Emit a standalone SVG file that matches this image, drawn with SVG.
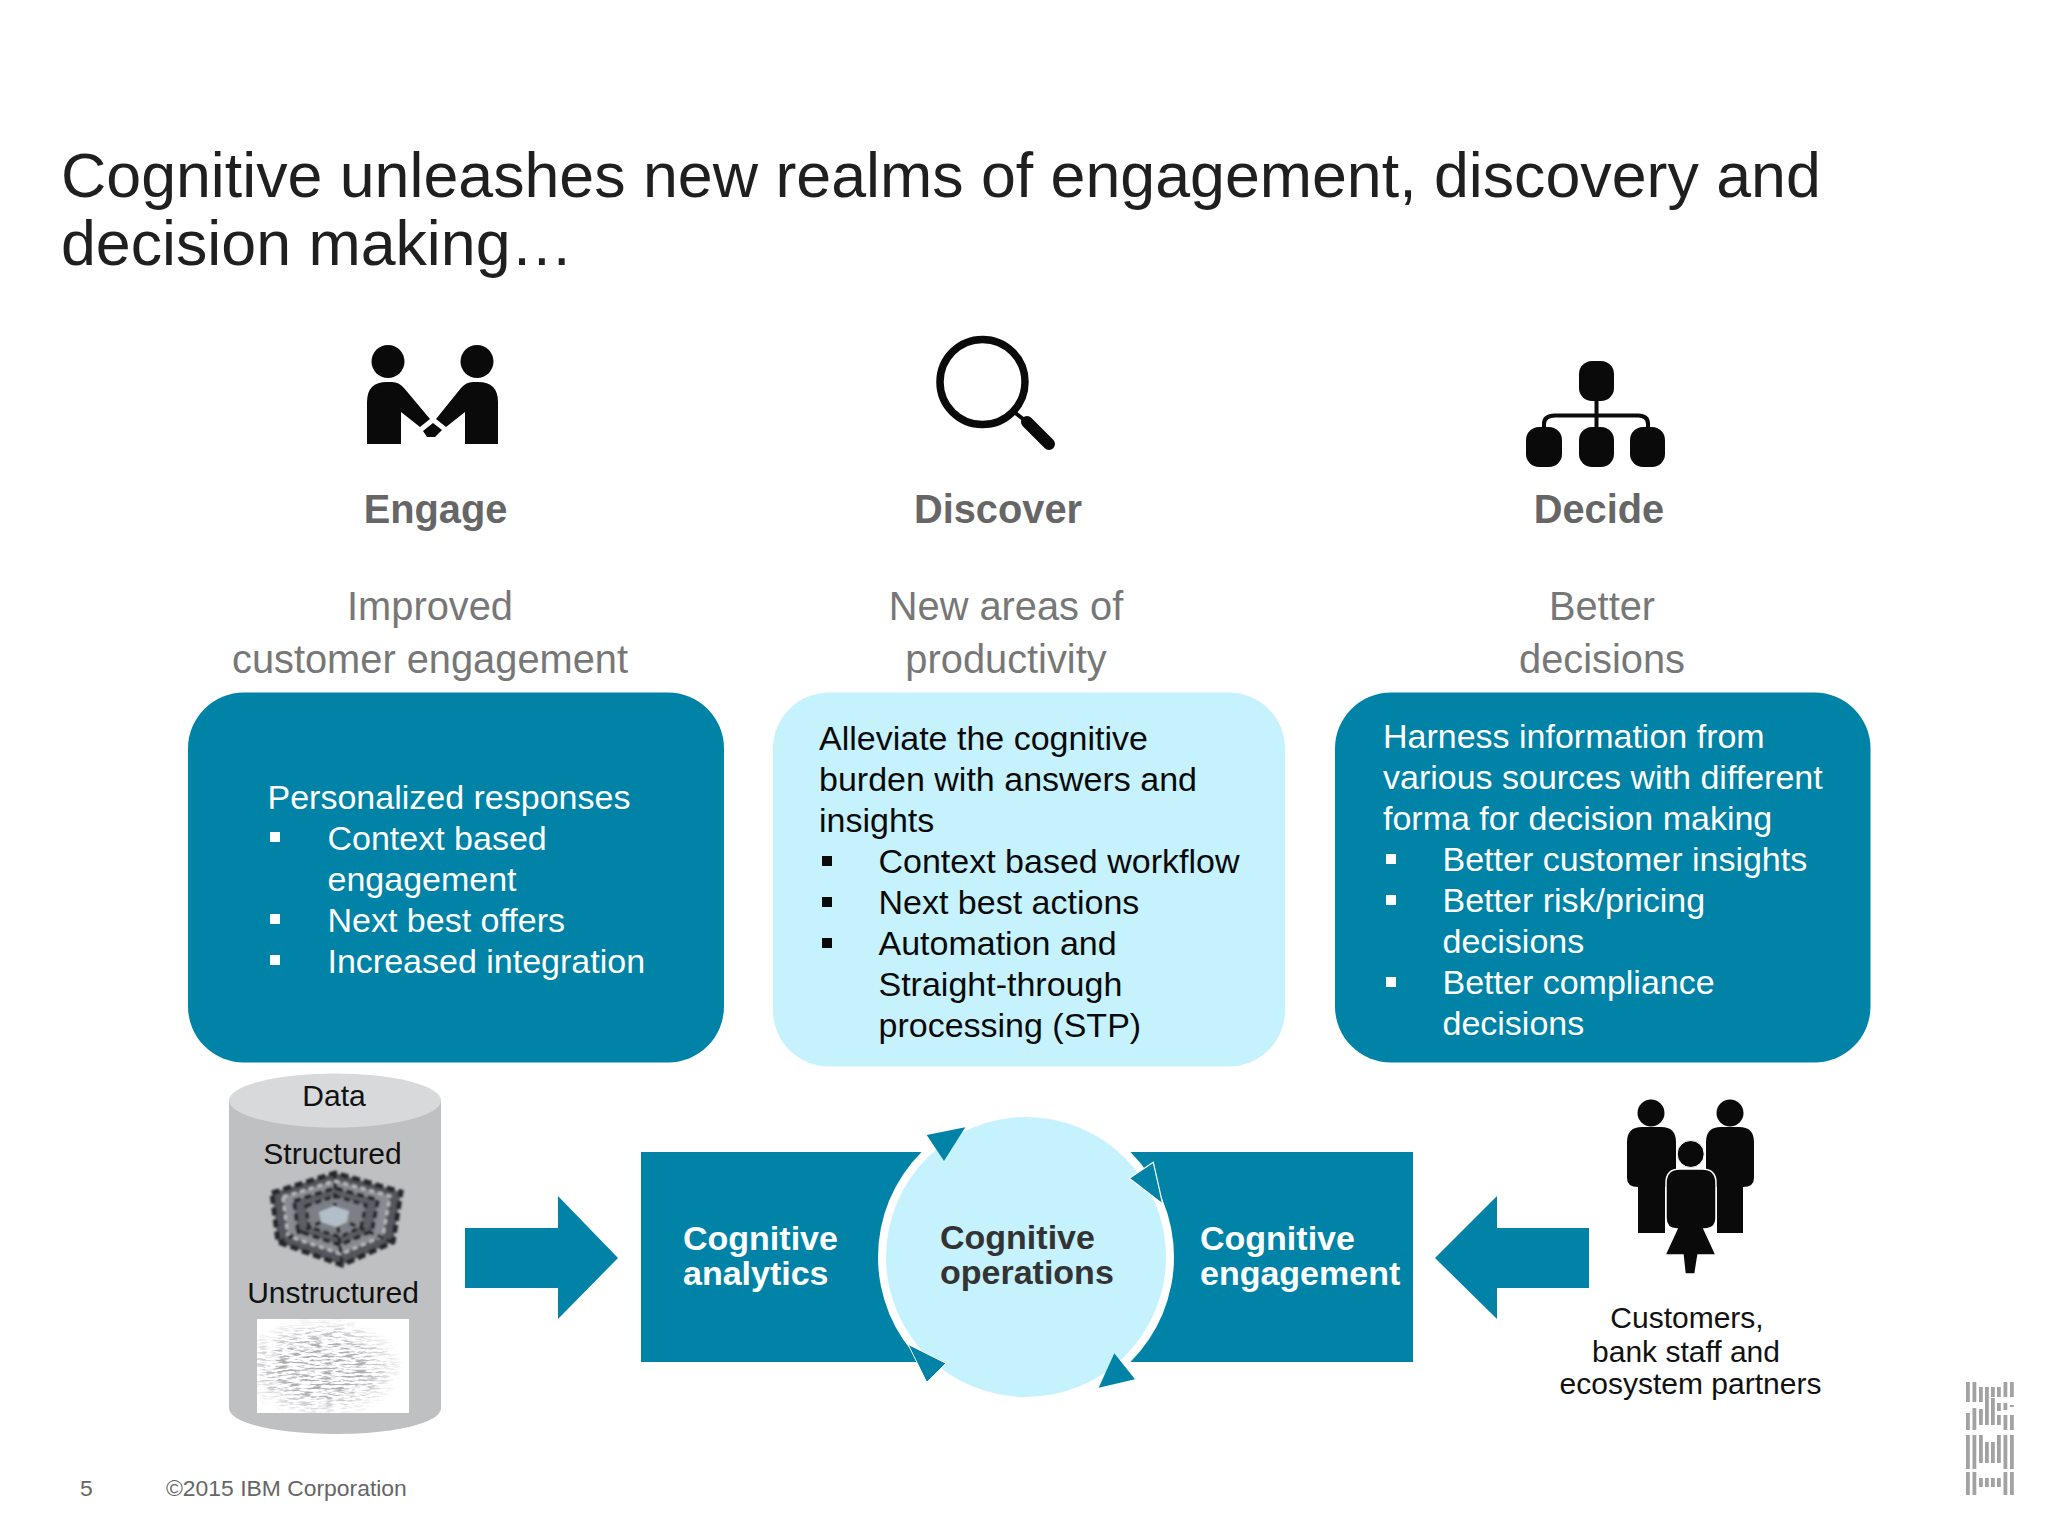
<svg xmlns="http://www.w3.org/2000/svg" width="2048" height="1536" viewBox="0 0 2048 1536">
<style>
text{font-family:"Liberation Sans",Arial,sans-serif}
.title{font-size:62.7px;fill:#1f1f1f}
.head{font-size:39.8px;font-weight:bold;fill:#666;text-anchor:middle}
.sub{font-size:39.8px;fill:#777;text-anchor:middle}
.body{font-size:34px}
.w{fill:#fff}
.k{fill:#0a0a0a}
.teal{fill:#0083a6}
.lab{font-size:34px;font-weight:bold;fill:#fff}
.c30{font-size:30px;fill:#111;text-anchor:middle}
.foot{font-size:22.9px;fill:#666}
.logo rect{fill:#a2a2a2;width:3.8px}
</style>
<defs>
<filter id="noise" x="0" y="0" width="100%" height="100%">
<feTurbulence type="fractalNoise" baseFrequency="0.09 0.5" numOctaves="3" seed="11" result="t"/>
<feColorMatrix in="t" type="matrix" values="0 0 0 0 0.42  0 0 0 0 0.42  0 0 0 0 0.45  3 3 0 0 -2.75"/>
<feGaussianBlur stdDeviation="0.45"/>
</filter>
<radialGradient id="fade" cx="0.42" cy="0.52" r="0.55"><stop offset="0.5" stop-color="#fff"/><stop offset="1" stop-color="#000"/></radialGradient>
<mask id="fm"><rect x="257" y="1319" width="152" height="94" fill="url(#fade)"/></mask>
<filter id="soft" x="-5%" y="-5%" width="110%" height="110%"><feGaussianBlur stdDeviation="0.9"/></filter>
<filter id="soft2" x="-5%" y="-5%" width="110%" height="110%"><feGaussianBlur stdDeviation="0.5"/></filter>
</defs>
<rect width="2048" height="1536" fill="#fff"/>
<text class="title" x="61" y="197">Cognitive unleashes new realms of engagement, discovery and</text>
<text class="title" x="61" y="265">decision making…</text>

<g id="engage">
<circle class="k" cx="388" cy="361.500" r="16.5"/><circle class="k" cx="477" cy="361.500" r="16.5"/>
<path class="k" d="M367 444V402Q367 382 387 382H392Q399 382 404 388L430 419L420 427L401 412V444Z"/>
<path class="k" d="M498 444V402Q498 382 478 382H473Q466 382 461 388L436 419L446 427L465 412V444Z"/>
<path class="k" d="M433 423L442 430L435 437H427L423 431Z"/>
<text class="head" x="435.500" y="522.500">Engage</text>
<text class="sub" x="430" y="620">Improved</text>
<text class="sub" x="430" y="672.500">customer engagement</text>
</g>
<g id="discover">
<circle cx="982.500" cy="382" r="42.500" fill="none" stroke="#0a0a0a" stroke-width="7.500"/>
<path d="M1014 412L1027 422" stroke="#0a0a0a" stroke-width="4" fill="none"/>
<path d="M1027 422L1049 444" stroke="#0a0a0a" stroke-width="12" stroke-linecap="round" fill="none"/>
<text class="head" x="998" y="522.500">Discover</text>
<text class="sub" x="1006" y="620">New areas of</text>
<text class="sub" x="1006" y="672.500">productivity</text>
</g>
<g id="decide">
<rect class="k" x="1579" y="361" width="35" height="40" rx="13"/>
<rect class="k" x="1526" y="427" width="36" height="40" rx="13"/>
<rect class="k" x="1579" y="427" width="35" height="40" rx="13"/>
<rect class="k" x="1630" y="427" width="35" height="40" rx="13"/>
<path d="M1596.500 401V427M1544 428V424Q1544 415.500 1555 415.500H1638Q1648 415.500 1648 424V428" stroke="#0a0a0a" stroke-width="4" fill="none"/>
<text class="head" x="1599" y="523">Decide</text>
<text class="sub" x="1602" y="620">Better</text>
<text class="sub" x="1602" y="672.500">decisions</text>
</g>

<g id="box-engage">
<rect class="teal" x="188" y="692.500" width="536" height="370" rx="56"/>
<g class="body w">
<text x="267.500" y="808.500">Personalized responses</text>
<text x="327.500" y="849.500">Context based</text>
<text x="327.500" y="890.500">engagement</text>
<text x="327.500" y="931.500">Next best offers</text>
<text x="327.500" y="972.500">Increased integration</text>
</g>
<rect class="w" x="270" y="832" width="10" height="10"/><rect class="w" x="270" y="914" width="10" height="10"/><rect class="w" x="270" y="955" width="10" height="10"/>
</g>
<g id="box-discover">
<rect x="773" y="692.500" width="512" height="374" rx="56" fill="#c6f2fe"/>
<g class="body k">
<text x="819" y="749.500">Alleviate the cognitive</text>
<text x="819" y="790.500">burden with answers and</text>
<text x="819" y="831.500">insights</text>
<text x="878.500" y="872.500">Context based workflow</text>
<text x="878.500" y="913.500">Next best actions</text>
<text x="878.500" y="954.500">Automation and</text>
<text x="878.500" y="995.500">Straight-through</text>
<text x="878.500" y="1036.500">processing (STP)</text>
</g>
<rect class="k" x="822" y="856" width="10" height="10"/><rect class="k" x="822" y="897" width="10" height="10"/><rect class="k" x="822" y="938" width="10" height="10"/>
</g>
<g id="box-decide">
<rect class="teal" x="1335" y="692.500" width="535.500" height="370" rx="56"/>
<g class="body w">
<text x="1383" y="747.500">Harness information from</text>
<text x="1383" y="788.500">various sources with different</text>
<text x="1383" y="829.500">forma for decision making</text>
<text x="1442.500" y="870.500">Better customer insights</text>
<text x="1442.500" y="911.500">Better risk/pricing</text>
<text x="1442.500" y="952.500">decisions</text>
<text x="1442.500" y="993.500">Better compliance</text>
<text x="1442.500" y="1034.500">decisions</text>
</g>
<rect class="w" x="1386" y="854" width="10" height="10"/><rect class="w" x="1386" y="895" width="10" height="10"/><rect class="w" x="1386" y="977" width="10" height="10"/>
</g>

<g id="data">
<path d="M229 1100V1408C229 1423 276 1434 335 1434S441 1423 441 1408V1100Z" fill="#bfc0c2"/>
<ellipse cx="335" cy="1100.500" rx="106" ry="27" fill="#d8d9da"/>
<text class="c30" x="334" y="1106">Data</text>
<text class="c30" x="332.500" y="1164">Structured</text>
<text class="c30" x="333" y="1303">Unstructured</text>
<g id="cube" filter="url(#soft)">
<path d="M272 1193L335 1173L401 1192L393 1242L342 1265L278 1242Z" fill="#54575d"/>
<path d="M272 1193L335 1173L401 1192L393 1242L342 1265L278 1242Z" fill="none" stroke="#26282c" stroke-width="5" stroke-dasharray="8 4"/>
<path d="M283 1197L335 1181L390 1196L383 1236L341 1254L288 1236Z" fill="#888b91" stroke="#b9bcc1" stroke-width="3" stroke-dasharray="5 4"/>
<path d="M294 1201L335 1188L378 1200L372 1231L340 1245L298 1231Z" fill="#5c5f65" stroke="#26282c" stroke-width="4" stroke-dasharray="7 4"/>
<path d="M306 1206L335 1196L366 1205L361 1227L340 1237L309 1227Z" fill="#7c7f85" stroke="#26282c" stroke-width="3.500" stroke-dasharray="6 4"/>
<path d="M319 1212L334 1206L349 1211L347 1222L336 1227L321 1222Z" fill="#b3bfc8"/>
<path d="M335 1173V1206M338 1227L342 1264M279 1242L321 1222M392 1242L347 1222" stroke="#26282c" stroke-width="3.500" stroke-dasharray="6 4" fill="none"/>
</g>
<g id="text-scan">
<rect x="257" y="1319" width="152" height="94" fill="#fff"/>
<g mask="url(#fm)"><rect x="257" y="1319" width="152" height="94" filter="url(#noise)"/></g>
</g>
</g>

<g id="connectors">
<path class="teal" d="M465 1228H558V1196L618 1258L558 1319V1288H465Z"/>
<path class="teal" d="M1589 1228H1497V1196L1435 1258L1497 1319V1288H1589Z"/>
</g>

<g id="analytics">
<rect class="teal" x="641" y="1152" width="300" height="210"/>
<text class="lab" x="683" y="1250">Cognitive</text>
<text class="lab" x="683" y="1285">analytics</text>
</g>
<g id="engagement">
<rect class="teal" x="1110" y="1152" width="303" height="210"/>
<text class="lab" x="1200" y="1250">Cognitive</text>
<text class="lab" x="1200" y="1285">engagement</text>
</g>
<g id="operations">
<circle cx="1026" cy="1257" r="148" fill="#fff"/>
<circle cx="1026" cy="1257" r="140" fill="#c6f2fe"/>
<text class="lab" style="fill:#333" x="940" y="1249">Cognitive</text>
<text class="lab" style="fill:#333" x="940" y="1284">operations</text>
<path class="teal" d="M926.700 1135L965.300 1127.300L944 1161Z"/>
<path class="teal" d="M1129.300 1178.300L1153.300 1162.300L1162.700 1204Z" stroke="#fff" stroke-width="1.200"/>
<path class="teal" d="M908 1344.300L946 1363.300L926.700 1382.300Z" stroke="#fff" stroke-width="1"/>
<path class="teal" d="M1114.300 1353.300L1135 1379.300L1098.700 1387.700Z"/>
</g>

<g id="people">
<circle class="k" cx="1651" cy="1113" r="13.500"/><circle class="k" cx="1730" cy="1113" r="13.500"/>
<path class="k" d="M1627 1142Q1627 1127 1642 1127H1661Q1676 1127 1676 1142V1178Q1676 1187 1665 1187V1233H1638V1187Q1627 1187 1627 1178Z"/>
<path class="k" d="M1706 1142Q1706 1127 1721 1127H1739Q1754 1127 1754 1142V1178Q1754 1187 1743 1187V1233H1717V1187Q1706 1187 1706 1178Z"/>
<circle class="k" cx="1690.700" cy="1154" r="13.500" stroke="#fff" stroke-width="1"/>
<path class="k" d="M1666 1183Q1666 1169 1680 1169H1702Q1716 1169 1716 1183V1218Q1716 1229 1704 1229L1716 1255H1698L1695 1274H1685L1683 1255H1665L1677 1229Q1666 1229 1666 1218Z" stroke="#fff" stroke-width="1.500"/>
<text class="c30" x="1687" y="1328">Customers,</text>
<text class="c30" x="1686" y="1362">bank staff and</text>
<text class="c30" x="1690.500" y="1394">ecosystem partners</text>
</g>

<g id="footer">
<text class="foot" x="80" y="1496">5</text>
<text class="foot" x="166" y="1496">©2015 IBM Corporation</text>
</g>
<g id="ibm-logo" class="logo" filter="url(#soft2)">
<rect x="1966" y="1382" height="20"/><rect x="1966" y="1413" height="17"/><rect x="1966" y="1435" height="34"/><rect x="1966" y="1472" height="23"/>
<rect x="1972.500" y="1382" height="20"/><rect x="1972.500" y="1408" height="22"/><rect x="1972.500" y="1435" height="34"/><rect x="1972.500" y="1472" height="23"/>
<rect x="1979" y="1387" height="15"/><rect x="1979" y="1409" height="16"/><rect x="1979" y="1435" height="28"/><rect x="1979" y="1478" height="9"/>
<rect x="1985" y="1387" height="38"/><rect x="1985" y="1442" height="21"/><rect x="1985" y="1478" height="9"/>
<rect x="1991" y="1387" height="10"/><rect x="1991" y="1398" height="27"/><rect x="1991" y="1442" height="21"/><rect x="1991" y="1478" height="9"/>
<rect x="1997" y="1387" height="10"/><rect x="1997" y="1403" height="8"/><rect x="1997" y="1415" height="10"/><rect x="1997" y="1435" height="28"/><rect x="1997" y="1478" height="9"/>
<rect x="2003.500" y="1382" height="15"/><rect x="2003.500" y="1403" height="7"/><rect x="2003.500" y="1415" height="15"/><rect x="2003.500" y="1435" height="34"/><rect x="2003.500" y="1472" height="23"/>
<rect x="2010" y="1382" height="15"/><rect x="2010" y="1405" height="2"/><rect x="2010" y="1415" height="15"/><rect x="2010" y="1435" height="34"/><rect x="2010" y="1472" height="23"/>
</g>
</svg>
